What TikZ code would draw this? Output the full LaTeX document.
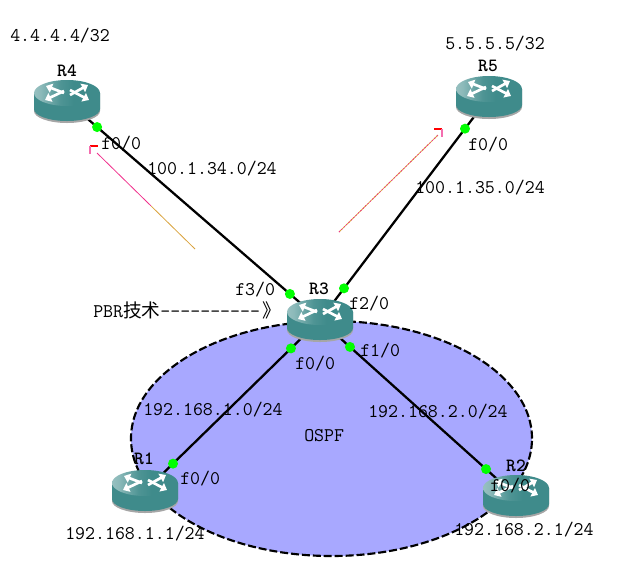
\documentclass[tikz,border=0pt]{standalone}
\usepackage{fontspec}
\newfontfamily\cjkfont{Noto Sans CJK SC}
\usetikzlibrary{calc,arrows.meta,shapes.geometric}
\definecolor{tealbody}{HTML}{3F8B8B}
\definecolor{ospfblue}{HTML}{A8A8FF}
\definecolor{linkorange}{HTML}{D9A23C}
\definecolor{linkpink}{HTML}{F0308C}
\pgfdeclarehorizontalshading{routertop}{100bp}{color(0bp)=(tealbody!25!white); color(30bp)=(tealbody!60!white); color(45bp)=(tealbody!92!white); color(55bp)=(tealbody); color(100bp)=(tealbody)}
\tikzset{
  routerbox/.style={minimum width=49.5pt,minimum height=31.5pt,inner sep=0pt,outer sep=0pt},
  link/.style={draw=black,line width=1.7pt},
  portdot/.style={circle,fill=green,inner sep=0pt,minimum size=7.5pt},
  lbl/.style={anchor=west,inner sep=0pt,font=\ttfamily\fontsize{14.5}{14.5}\selectfont},
  ctr/.style={anchor=center,inner sep=0pt,font=\ttfamily\bfseries\fontsize{14}{14}\selectfont},
  whitearrow/.style={draw=white,line width=2pt,-{Triangle[length=4.5pt,width=7pt]}},
  markred/.style={draw=red,line width=0.9pt},
  markpink/.style={draw=linkpink!70!white,line width=0.9pt},
}
\newcommand{\routericon}[1]{%
  \begin{scope}[shift={(#1)}]
    \fill[gray!70] (-33,-8) -- (-33,10) arc[start angle=180,end angle=0,x radius=33,y radius=12] -- (33,-8) -- cycle;
    \fill[tealbody] (-33,-8) -- (-33,8) arc[start angle=180,end angle=0,x radius=33,y radius=12] -- (33,-8) -- cycle;
    \path[shading=routertop] (0,-8) ellipse[x radius=33,y radius=13];
    \draw[whitearrow] (-3,-8) -- (-21,-15);
    \draw[whitearrow] (3,-6) -- (21,-16);
    \draw[whitearrow] (-3,-10) -- (-22,-1);
    \draw[whitearrow] (3,-11) -- (22,-1);
  \end{scope}}
\begin{document}
\begin{tikzpicture}[x=0.75pt,y=-0.75pt]
\useasboundingbox (0,0) rectangle (635,569);
\node[draw=black,fill=ospfblue,line width=1.6pt,dash pattern=on 6pt off 2.2pt,ellipse,inner sep=0pt,minimum width=300.75pt,minimum height=176.25pt] (ospf) at (331.5,438.5) {};
\node[routerbox] (R4) at (67,101) {};
\node[routerbox] (R5) at (489,97) {};
\node[routerbox] (R3) at (320,320) {};
\node[routerbox] (R1) at (145,491) {};
\node[routerbox] (R2) at (516,496) {};
\draw[link] (R4.center) -- (R3.center);
\draw[link] (R5.center) -- (R3.center);
\draw[link] (R3.center) -- (R1.center);
\draw[link] (R3.center) -- (R2.center);
\routericon{R4}\routericon{R5}\routericon{R3}\routericon{R1}\routericon{R2}
\node[portdot] (d4) at ($(R4.center)!0.119!(R3.center)$) {};
\node[portdot] (d3a) at ($(R4.center)!0.881!(R3.center)$) {};
\node[portdot] (d5) at ($(R5.center)!0.142!(R3.center)$) {};
\node[portdot] (d3b) at ($(R5.center)!0.858!(R3.center)$) {};
\node[portdot] (d3c) at ($(R3.center)!0.166!(R1.center)$) {};
\node[portdot] (d1) at ($(R3.center)!0.84!(R1.center)$) {};
\node[portdot] (d3d) at ($(R3.center)!0.153!(R2.center)$) {};
\node[portdot] (d2) at ($(R3.center)!0.847!(R2.center)$) {};
% traffic arrows
\coordinate (a1) at (195,249); \coordinate (a2) at (97,153);
\coordinate (b1) at (339,232); \coordinate (b2) at (438,135);
\draw[linkorange,line width=0.6pt] (a1) -- ($(a1)!0.45!(a2)$);
\draw[linkpink,line width=0.6pt] ($(a1)!0.45!(a2)$) -- (a2);
\draw[linkorange,line width=0.6pt] (b1) -- (b2);
\draw[linkpink,line width=0.6pt,dash pattern=on 1pt off 1.5pt] (b1) -- (b2);
\coordinate (c1) at (90,146); \coordinate (c2) at (442,129);
\draw[markred] (c1) -- ++(8,0);
\draw[markpink] (c1) -- ++(0,8);
\draw[markred] (c2) -- ++(-8,0);
\draw[markpink] (c2) -- ++(0,8);
% labels
\node[lbl] (t44) at (10,36) {4.4.4.4/32};
\node[lbl] (t55) at (445,44) {5.5.5.5/32};
\node[ctr] (n4) at (67,71) {R4};
\node[ctr] (n5) at (488,66) {R5};
\node[ctr] (n3) at (319,289) {R3};
\node[ctr] (n1) at (144,459) {R1};
\node[ctr] (n2) at (516,466) {R2};
\node[lbl] (p4) at (101,144) {f0/0};
\node[lbl] (net34) at (147,169) {100.1.34.0/24};
\node[lbl] (p5) at (468,145) {f0/0};
\node[lbl] (net35) at (415,188) {100.1.35.0/24};
\node[lbl] (pf3) at (235,290) {f3/0};
\node[lbl] (pf2) at (349,304) {f2/0};
\node[lbl] (pf0) at (295,364) {f0/0};
\node[lbl] (pf1) at (360,351) {f1/0};
\node[lbl] (net1) at (143,410) {192.168.1.0/24};
\node[lbl] (net2) at (368,412) {192.168.2.0/24};
\node[lbl] (ospftext) at (304,436) {OSPF};
\node[lbl] (p1) at (180,479) {f0/0};
\node[lbl] (p2) at (490,486) {f0/0};
\node[lbl] (h1) at (65,534) {192.168.1.1/24};
\node[lbl] (h2) at (454,530) {192.168.2.1/24};
\node[lbl] (pbr) at (93,310) {PBR{\cjkfont\fontsize{14}{14}\selectfont 技术}----------{\cjkfont\fontsize{14}{14}\selectfont\hspace{0.12em}》}};
\end{tikzpicture}
\end{document}
